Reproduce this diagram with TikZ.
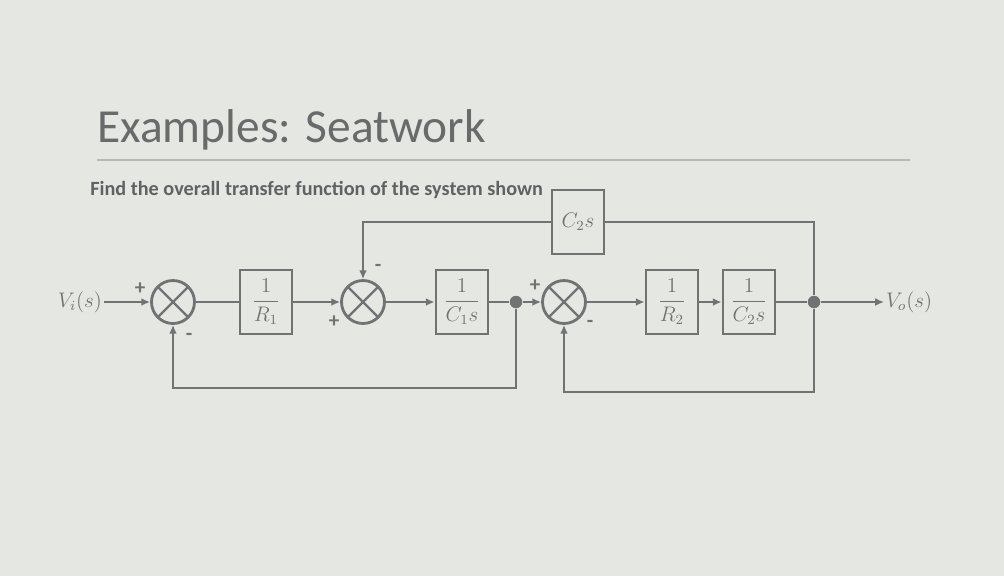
\documentclass[tikz,border=0pt]{standalone}
\usepackage{fontspec}
\setmainfont{Carlito}
\usepackage{amsmath}
\usetikzlibrary{arrows.meta}
\definecolor{slidebg}{HTML}{E5E7E3}
\definecolor{inkgray}{HTML}{727272}
\definecolor{titlegray}{HTML}{6A6A6A}
\definecolor{rulegray}{HTML}{B9BAB6}
\newcommand{\drawSign}[2]{\node[sign] at #1 {#2}}

\tikzset{
  sumjunc/.style={circle, draw=inkgray, line width=1.6pt, minimum size=0.86cm, inner sep=0pt,
    path picture={\draw[inkgray, line width=1.3pt]
      (path picture bounding box.north west) -- (path picture bounding box.south east)
      (path picture bounding box.north east) -- (path picture bounding box.south west);}},
  tfblock/.style={draw=inkgray, line width=1.6pt, minimum width=1.04cm, minimum height=1.28cm,
    inner sep=0pt, text=inkgray, font=\fontsize{12}{14}\selectfont},
  wire/.style={inkgray, line width=1.6pt},
  sig/.style={wire, -{Latex[length=5pt,width=4.5pt]}},
  sign/.style={text=inkgray, font=\bfseries\fontsize{12}{12}\selectfont, inner sep=0pt},
  branch/.style={circle, fill=inkgray, minimum size=0.25cm, inner sep=0pt},
}

\begin{document}
\begin{tikzpicture}[x=0.02cm, y=-0.02cm]
    \fill[slidebg] (0,0) rectangle (1004,576);
    \useasboundingbox (0,0) rectangle (1004,576);

    % heading
    \node[anchor=base west, inner sep=0pt, text=titlegray, font=\fontsize{27}{31}\selectfont] (title) at (97,142) {Examples: Seatwork};
    \draw[rulegray, line width=0.8pt] (97,160) -- (910,160);
    \node[anchor=base west, inner sep=0pt, text=black!62, font=\bfseries\fontsize{11.5}{13}\selectfont] (task) at (90,195) {Find the overall transfer function of the system shown};

    % forward path
    \node[anchor=east, inner sep=1pt, text=inkgray, font=\fontsize{12}{14}\selectfont] (vin) at (104,302) {$V_i(s)$};
    \node[sumjunc] (sumIn) at (173,302) {};
    \node[tfblock] (blockRa) at (266,302) {$\dfrac{1}{R_1}$};
    \node[sumjunc] (sumMid) at (363,302) {};
    \node[tfblock] (blockCa) at (462,302) {$\dfrac{1}{C_1s}$};
    \node[branch] (branchA) at (516,302) {};
    \node[sumjunc] (sumOut) at (564,302) {};
    \node[tfblock] (blockRb) at (672,302) {$\dfrac{1}{R_2}$};
    \node[tfblock] (blockCb) at (749,302) {$\dfrac{1}{C_2s}$};
    \node[branch] (branchB) at (814,302) {};
    \node[anchor=west, inner sep=1pt, text=inkgray, font=\fontsize{12}{14}\selectfont] (vout) at (884,302) {$V_o(s)$};

    % feedback block
    \node[tfblock] (blockCs) at (578,222) {$C_2s$};

    \draw[sig] (vin) -- (sumIn);
    \draw[wire] (sumIn) -- (blockRa);
    \draw[sig] (blockRa) -- (sumMid);
    \draw[sig] (sumMid) -- (blockCa);
    \draw[wire] (blockCa) -- (branchA);
    \draw[sig] (branchA) -- (sumOut);
    \draw[sig] (sumOut) -- (blockRb);
    \draw[sig] (blockRb) -- (blockCb);
    \draw[wire] (blockCb) -- (branchB);
    \draw[sig] (branchB) -- (vout);

    % for the loops
    \draw[sig] (branchA) -- ++(0,86) -| (sumIn.south);
    \draw[sig] (branchB) -- ++(0,90) -| (sumOut.south);
    \draw[wire] (branchB) |- (blockCs.east);
    \draw[sig] (blockCs.west) -| (sumMid.north);

    % signs
    \drawSign{(140,289)}{+};
    \drawSign{(189,337)}{-};
    \drawSign{(334,322)}{+};
    \drawSign{(378,268)}{-};
    \drawSign{(535,286)}{+};
    \drawSign{(590,324)}{-};
\end{tikzpicture}
\end{document}
